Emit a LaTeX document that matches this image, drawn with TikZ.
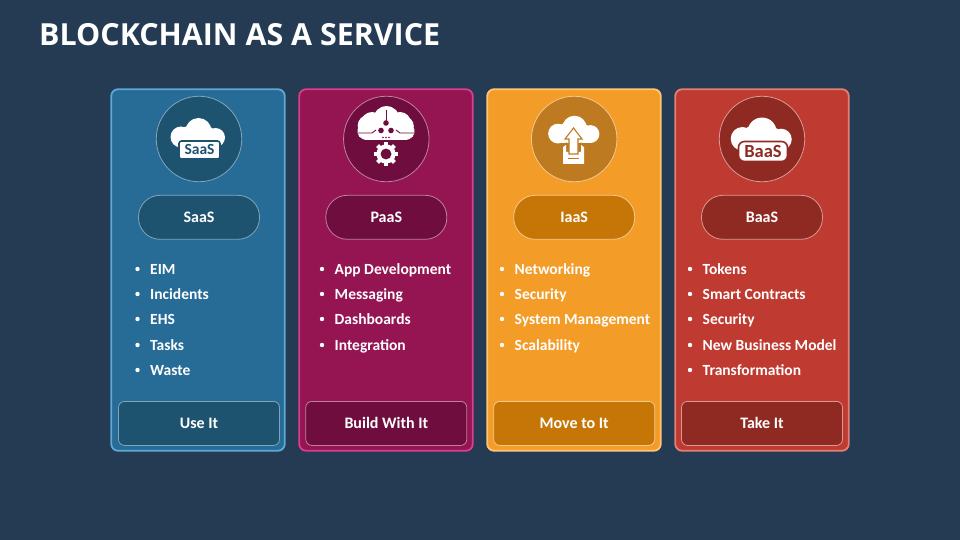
\documentclass[tikz,border=0pt]{standalone}
\usepackage{fontspec}
\setmainfont{Carlito}
\newfontfamily\titlefont{Open Sans}
\definecolor{bgc}{HTML}{253B54}
\definecolor{cA}{HTML}{276C96}\definecolor{bA}{HTML}{5CA8D6}\definecolor{dA}{HTML}{1E5370}\definecolor{lA}{HTML}{7FA5BC}
\definecolor{cB}{HTML}{951553}\definecolor{bB}{HTML}{DB3D8C}\definecolor{dB}{HTML}{6F0E3E}\definecolor{lB}{HTML}{BF7FA0}
\definecolor{cC}{HTML}{F49C28}\definecolor{bC}{HTML}{FBC57A}\definecolor{dC}{HTML}{C57607}\definecolor{lC}{HTML}{F3C98C}\definecolor{rC}{HTML}{BE7A20}
\definecolor{cD}{HTML}{BF3A30}\definecolor{bD}{HTML}{E27F76}\definecolor{dD}{HTML}{8F2A22}\definecolor{lD}{HTML}{D99A94}
\tikzset{
 cardbox/.style={rounded corners=7pt,line width=1.8pt},
 iconring/.style={circle,minimum size=85.5pt,inner sep=0pt,line width=.8pt},
 pillbox/.style={rounded corners=21.5pt,minimum width=121pt,minimum height=44pt,inner sep=0pt,line width=.8pt,text=white,text height=10pt,text depth=0pt,font=\bfseries\fontsize{16}{16}\selectfont},
 footbox/.style={rounded corners=6pt,minimum width=161pt,minimum height=44pt,inner sep=0pt,line width=.8pt,text=white,text height=10pt,text depth=0pt,font=\bfseries\fontsize{16}{16}\selectfont},
 itemtext/.style={anchor=base west,inner sep=0pt,text=white,font=\bfseries\fontsize{15.5}{15}\selectfont},
 bulletdot/.style={circle,fill=white,minimum size=4.4pt,inner sep=0pt},
}
% id, left x, colour suffix, ring fill, pill text, footer text, centre offset
\newcommand{\cardbase}[7]{%
 \node[cardbox,draw=b#3,fill=c#3,minimum width=173.6pt,minimum height=361.6pt,inner sep=0pt] (card#1) at (#2+87,270) {};
 \node[iconring,draw=l#3,fill=#4] (ring#1) at (#2+#7+87,139) {};
 \node[pillbox,draw=l#3,fill=d#3] (pill#1) at (#2+#7+87,217.3) {#5};
 \node[footbox,draw=l#3,fill=d#3] (foot#1) at (#2+#7+87,423.4) {#6};
}
\newcommand{\itemrow}[5]{%
 \node[bulletdot] (dot#1#2) at (#3,#4) {};
 \node[itemtext] (item#1#2) at (#3+12.5,#4+5) {#5};
}
% centre x, base y, scale
\newcommand{\cloudshape}[3]{%
 \fill[white] (#1-17*#3,#2-10*#3) circle (10.5*#3) (#1+17.5*#3,#2-9.5*#3) circle (9.5*#3) (#1+0.5*#3,#2-16*#3) circle (13*#3)
   (#1-9*#3,#2-12*#3) circle (9*#3) (#1+10*#3,#2-11*#3) circle (9*#3);
 \fill[white] (#1-17*#3,#2-10*#3) rectangle (#1+17.5*#3,#2+0.5*#3);
}
\begin{document}
\begin{tikzpicture}[x=1pt,y=-1pt]
\useasboundingbox (0,0) rectangle (960,540);
\fill[bgc] (0,0) rectangle (960,540);
\node[anchor=west,inner sep=0pt,text=white,font=\titlefont\bfseries\fontsize{30.4}{31}\selectfont] (title) at (39,34.6) {BLOCKCHAIN AS A SERVICE};

\cardbase{1}{111}{A}{dA}{SaaS}{Use It}{1}
\cardbase{2}{299}{B}{dB}{PaaS}{Build With It}{0.3}
\cardbase{3}{487}{C}{rC}{IaaS}{Move to It}{0.2}
\cardbase{4}{675}{D}{dD}{BaaS}{Take It}{0}

\itemrow{1}{a}{137.5}{269}{EIM}
\itemrow{1}{b}{137.5}{294}{Incidents}
\itemrow{1}{c}{137.5}{319}{EHS}
\itemrow{1}{d}{137.5}{345}{Tasks}
\itemrow{1}{e}{137.5}{370}{Waste}
\itemrow{2}{a}{322}{269}{App Development}
\itemrow{2}{b}{322}{294}{Messaging}
\itemrow{2}{c}{322}{319}{Dashboards}
\itemrow{2}{d}{322}{345}{Integration}
\itemrow{3}{a}{502}{269}{Networking}
\itemrow{3}{b}{502}{294}{Security}
\itemrow{3}{c}{502}{319}{System Management}
\itemrow{3}{d}{502}{345}{Scalability}
\itemrow{4}{a}{690}{269}{Tokens}
\itemrow{4}{b}{690}{294}{Smart Contracts}
\itemrow{4}{c}{690}{319}{Security}
\itemrow{4}{d}{690}{345}{New Business Model}
\itemrow{4}{e}{690}{370}{Transformation}

% SaaS icon
\cloudshape{198}{147}{1}
\node[fill=white,draw=dA,line width=1.6pt,rounded corners=2.5pt,minimum width=41pt,minimum height=18pt,inner sep=0pt,text=dA,text height=10pt,text depth=0pt,font=\bfseries\fontsize{15.5}{15}\selectfont] (iconA) at (199.5,150) {SaaS};

% PaaS icon
\cloudshape{386}{136}{1.03}
\fill[white] (372,123) circle (11) (400,123) circle (11);
\fill[white] (358,128) -- (414,128) .. controls (416,135) and (412,140) .. (404,140) -- (368,140) .. controls (360,140) and (356,135) .. (358,128) -- cycle;
\begin{scope}[dB,line width=.9pt]
\draw (386,110) -- (386,122);
\draw (358,133) -- (372,133) -- (376,130);
\draw (414,133) -- (400,133) -- (396,130);
\fill (386,123) circle (2.8) (381,130.5) circle (2.8) (391,130.5) circle (2.8);
\fill (383,137.5) circle (.8) (386,137.5) circle (.8) (389,137.5) circle (.8);
\end{scope}
\foreach \a in {0,45,...,315}{\fill[white,rotate around={\a:(386,154)}] (384,142) rectangle (388,148);}
\fill[white,even odd rule] (386,154) circle (9.6) (386,154) circle (5.6);

% IaaS icon
\cloudshape{574}{143}{.94}
\fill[white] (563,147) -- (566,145) -- (566,152) -- (581,152) -- (581,145) -- (584,147) -- (584,164) -- (563,164) -- cycle;
\draw[rC,line width=1pt] (568,158.5) -- (579,158.5);
\draw[rC,line width=1pt] (563,146.5) .. controls (564,142) and (566,144) .. (567,143);
\draw[rC,line width=1pt] (584,146.5) .. controls (583,142) and (581,144) .. (580,143);
\fill[white,draw=rC,line width=1.1pt] (573.5,128) -- (565,139) -- (569,139) -- (569,154) -- (578,154) -- (578,139) -- (582,139) -- cycle;

% BaaS icon
\cloudshape{761.5}{150}{1.12}
\node[fill=white,draw=dD,line width=1.6pt,rounded corners=6pt,minimum width=49pt,minimum height=20pt,inner sep=0pt,text=dD,text height=12pt,text depth=0pt,font=\bfseries\fontsize{18.5}{18}\selectfont] (iconD) at (763,151.5) {BaaS};
\end{tikzpicture}
\end{document}
